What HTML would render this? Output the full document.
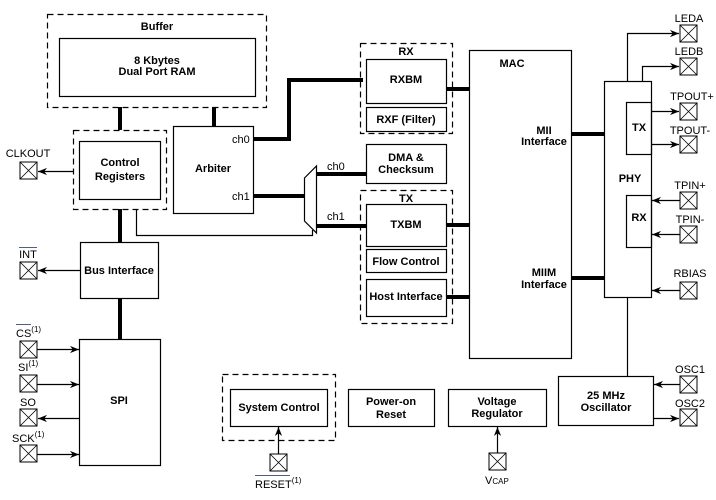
<!DOCTYPE html>
<html><head><meta charset="utf-8"><style>
html,body{margin:0;padding:0;background:#fff}
svg{display:block}
text{font-family:"Liberation Sans",Arial,sans-serif;fill:#000}
.b{font-weight:bold;font-size:11px}
.n{font-size:11px;fill:#1a2a5a}
</style></head><body>
<svg width="716" height="500" viewBox="0 0 716 500" xmlns="http://www.w3.org/2000/svg">
<defs>
<marker id="ar" viewBox="0 0 10 10" refX="10" refY="5" markerWidth="9" markerHeight="9" markerUnits="userSpaceOnUse" orient="auto"><path d="M0,1 L10,5 L0,9 L3,5 z" fill="#000"/></marker>
<g id="pin"><rect x="0" y="0" width="17" height="17" fill="#fff" stroke="#000" stroke-width="1"/><path d="M0,0 L17,17 M17,0 L0,17" stroke="#000" stroke-width="0.8"/></g>
</defs>
<g fill="none" stroke="#000" stroke-width="1.2">
<!-- dashed groups -->
<g stroke-dasharray="6,4">
<rect x="47.5" y="14.5" width="219" height="93"/>
<rect x="73.5" y="130.5" width="93" height="79"/>
<rect x="360.5" y="43.5" width="92" height="90"/>
<rect x="360.5" y="190.5" width="92" height="133"/>
<rect x="222.5" y="374.5" width="113" height="66"/>
</g>
<rect x="59.5" y="38.5" width="196" height="58"/>
<rect x="79.5" y="141.5" width="81" height="58"/>
<rect x="173.5" y="126.5" width="80" height="87"/>
<rect x="80.5" y="242.5" width="78" height="56"/>
<rect x="79.5" y="339.5" width="81" height="126"/>
<rect x="366.5" y="59.5" width="80" height="44"/>
<rect x="366.5" y="107.5" width="80" height="24"/>
<rect x="366.5" y="144.5" width="80" height="39"/>
<rect x="366.5" y="204.5" width="80" height="42"/>
<rect x="366.5" y="249.5" width="80" height="23"/>
<rect x="366.5" y="279.5" width="80" height="37"/>
<rect x="469.5" y="50.5" width="102" height="308"/>
<rect x="604.5" y="81.5" width="47" height="216"/>
<rect x="626.5" y="102.5" width="25" height="52"/>
<rect x="626.5" y="195.5" width="25" height="52"/>
<rect x="558.5" y="376.5" width="95" height="49"/>
<rect x="230.5" y="389.5" width="97" height="37"/>
<rect x="348.5" y="389.5" width="86" height="37"/>
<rect x="448.5" y="389.5" width="98" height="37"/>
<!-- mux -->
<path d="M304.5,178 L316.5,166 L316.5,233 L304.5,221 Z"/>
<!-- thin connectors -->
<path d="M136.5,210 L136.5,235.5 L312.5,235.5 L312.5,230"/>
<path d="M627.5,297 L627.5,376"/>
<path d="M627.5,81 L627.5,33.5 L679,33.5" marker-end="url(#ar)"/>
<path d="M642.5,81 L642.5,66.5 L679,66.5" marker-end="url(#ar)"/>
<path d="M651,111.5 L679,111.5" marker-end="url(#ar)"/>
<path d="M651,144.5 L679,144.5" marker-end="url(#ar)"/>
<path d="M680,200.5 L652,200.5" marker-end="url(#ar)"/>
<path d="M680,234.5 L652,234.5" marker-end="url(#ar)"/>
<path d="M680,290.5 L652,290.5" marker-end="url(#ar)"/>
<path d="M680,384.5 L654,384.5" marker-end="url(#ar)"/>
<path d="M653,418.5 L679,418.5" marker-end="url(#ar)"/>
<path d="M73,171.5 L38,171.5" marker-end="url(#ar)"/>
<path d="M80,270.5 L38,270.5" marker-end="url(#ar)"/>
<path d="M37,349.5 L79,349.5" marker-end="url(#ar)"/>
<path d="M37,384.5 L79,384.5" marker-end="url(#ar)"/>
<path d="M79,418.5 L38,418.5" marker-end="url(#ar)"/>
<path d="M37,454.5 L79,454.5" marker-end="url(#ar)"/>
<path d="M278.5,454 L278.5,427" marker-end="url(#ar)"/>
<path d="M497.5,453 L497.5,427" marker-end="url(#ar)"/>
</g>
<!-- thick buses -->
<g fill="none" stroke="#000" stroke-width="4">
<path d="M120,107 L120,130 M120,209 L120,242 M120,298 L120,339 M214,107 L214,126"/>
<path d="M253,139 L289,139 L289,80 L363,80"/>
<path d="M253,196 L304,196"/>
<path d="M316,174 L366,174 M316,226 L366,226"/>
<path d="M446,89 L469,89 M446,225 L469,225 M446,297 L469,297"/>
<path d="M571,134 L604,134 M571,278 L604,278"/>
</g>
<!-- pins -->
<use href="#pin" x="680" y="25"/>
<use href="#pin" x="680" y="58"/>
<use href="#pin" x="680" y="103"/>
<use href="#pin" x="680" y="136"/>
<use href="#pin" x="680" y="192"/>
<use href="#pin" x="680" y="226"/>
<use href="#pin" x="680" y="282"/>
<use href="#pin" x="680" y="376"/>
<use href="#pin" x="680" y="409"/>
<use href="#pin" x="20" y="162"/>
<use href="#pin" x="20" y="262"/>
<use href="#pin" x="20" y="341"/>
<use href="#pin" x="20" y="375"/>
<use href="#pin" x="20" y="409"/>
<use href="#pin" x="20" y="445"/>
<use href="#pin" x="270" y="454"/>
<use href="#pin" x="489" y="453"/>
<!-- labels -->
<g class="b" text-anchor="middle">
<text x="157" y="30">Buffer</text>
<text x="157" y="64">8 Kbytes</text>
<text x="157" y="75">Dual Port RAM</text>
<text x="120" y="166">Control</text>
<text x="120" y="180">Registers</text>
<text x="213" y="172">Arbiter</text>
<text x="119" y="274">Bus Interface</text>
<text x="119" y="404">SPI</text>
<text x="406" y="55">RX</text>
<text x="406" y="83">RXBM</text>
<text x="406" y="123">RXF (Filter)</text>
<text x="406" y="161">DMA &amp;</text>
<text x="406" y="173">Checksum</text>
<text x="406" y="202">TX</text>
<text x="406" y="228">TXBM</text>
<text x="406" y="265">Flow Control</text>
<text x="406" y="300">Host Interface</text>
<text x="512" y="67">MAC</text>
<text x="544" y="134">MII</text>
<text x="544" y="145">Interface</text>
<text x="544" y="276">MIIM</text>
<text x="544" y="288">Interface</text>
<text x="630" y="182">PHY</text>
<text x="639" y="131">TX</text>
<text x="639" y="221">RX</text>
<text x="606" y="399">25 MHz</text>
<text x="606" y="411">Oscillator</text>
<text x="279" y="411">System Control</text>
<text x="391" y="405">Power-on</text>
<text x="391" y="418">Reset</text>
<text x="497" y="405">Voltage</text>
<text x="497" y="417">Regulator</text>
</g>
<g class="n">
<text x="232" y="143" fill="#000">ch0</text>
<text x="232" y="200">ch1</text>
<text x="327" y="170">ch0</text>
<text x="327" y="220">ch1</text>
<g text-anchor="middle">
<text x="689" y="22">LEDA</text>
<text x="689" y="55">LEDB</text>
<text x="692" y="100">TPOUT+</text>
<text x="690" y="134">TPOUT-</text>
<text x="690" y="189">TPIN+</text>
<text x="690" y="223">TPIN-</text>
<text x="690" y="277">RBIAS</text>
<text x="690" y="373">OSC1</text>
<text x="690" y="407">OSC2</text>
<text x="28" y="157">CLKOUT</text>
<text x="28" y="258">INT</text>
<text x="28" y="406">SO</text>
</g>
<path d="M19,247.5 L37,247.5 M16,324.5 L31,324.5 M255,475.5 L290,475.5" stroke="#1a2a5a" stroke-width="0.8"/>
<text x="16" y="337">CS<tspan font-size="8" dy="-5">(1)</tspan></text>
<text x="18" y="371">SI<tspan font-size="8" dy="-5">(1)</tspan></text>
<text x="12" y="442">SCK<tspan font-size="8" dy="-5">(1)</tspan></text>
<text x="255" y="488">RESET<tspan font-size="8" dy="-5">(1)</tspan></text>
<text x="485" y="484">V<tspan font-size="8">CAP</tspan></text>
</g>
</svg>
</body></html>
